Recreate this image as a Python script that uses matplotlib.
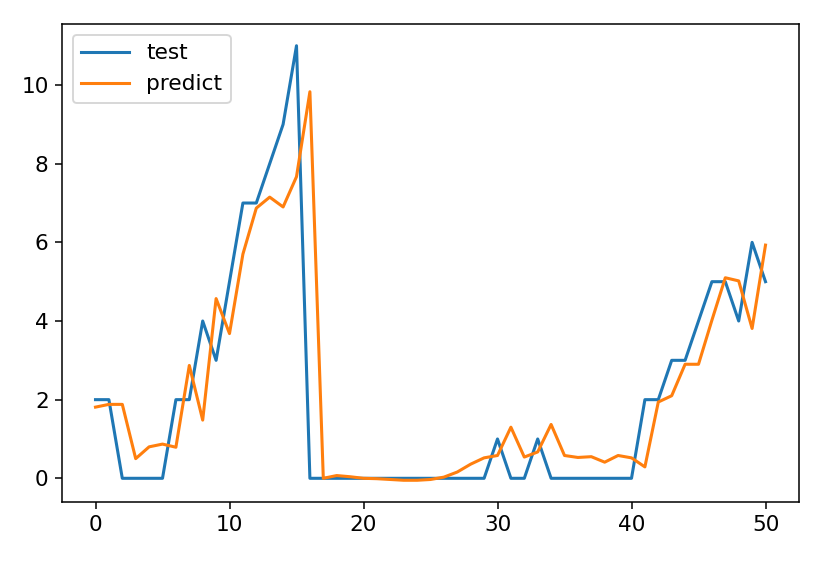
import matplotlib
matplotlib.use("Agg")
import matplotlib.pyplot as plt

test = [2, 2, 0, 0, 0, 0, 2, 2, 4, 3, 5, 7, 7, 8, 9, 11, 0, 0, 0, 0,
        0, 0, 0, 0, 0, 0, 0, 0, 0, 0, 1, 0, 0, 1, 0, 0, 0, 0, 0, 0,
        0, 2, 2, 3, 3, 4, 5, 5, 4, 6, 5]
predict = [1.81, 1.88, 1.88, 0.5, 0.8, 0.87, 0.79, 2.87, 1.48, 4.57,
           3.68, 5.7, 6.87, 7.15, 6.9, 7.67, 9.83, 0.0, 0.07, 0.04,
           0.0, -0.01, -0.03, -0.05, -0.05, -0.03, 0.03, 0.16, 0.36, 0.52,
           0.58, 1.3, 0.54, 0.67, 1.37, 0.58, 0.53, 0.55, 0.41, 0.58,
           0.52, 0.29, 1.94, 2.1, 2.9, 2.9, 4.02, 5.1, 5.02, 3.81, 5.93]

plt.rcParams["font.size"] = 11.3
plt.rcParams["lines.linewidth"] = 1.6

dpi = 137.5
fig = plt.figure(figsize=(827 / dpi, 562 / dpi), dpi=dpi)
ax = fig.add_axes([62 / 827, 1 - 502 / 562, (799 - 62) / 827, (502 - 24) / 562])
ax.plot(range(len(test)), test, label="test")
ax.plot(range(len(predict)), predict, label="predict")
ax.legend(loc="upper left", handlelength=2.2)
fig.savefig("out.png", dpi=dpi)
